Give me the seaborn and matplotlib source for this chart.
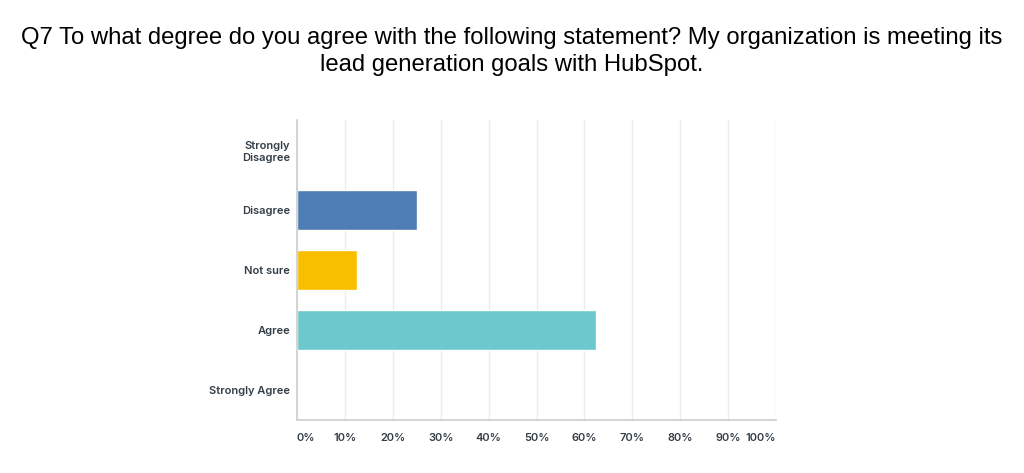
import matplotlib; matplotlib.use("Agg")
import matplotlib.pyplot as plt
import pandas as pd
import seaborn as sns

# ── data ──────────────────────────────────────────
categories = ["Strongly\nDisagree", "Disagree", "Not sure", "Agree", "Strongly Agree"]
percent = [0.0, 25.0, 12.5, 62.5, 0.0]
bar_colors = ["#3d6fa8", "#4f7db5", "#f8be00", "#6cc8cc", "#8ebf5c"]
x_ticks = [0, 10, 20, 30, 40, 50, 60, 70, 80, 90, 100]
x_tick_labels = [f"{t}%" for t in x_ticks]
title = ("Q7 To what degree do you agree with the following statement? My organization is meeting its\n"
         "lead generation goals with HubSpot.")

sns.set_theme(style="white")
plt.rcParams["font.family"] = ["Inter", "DejaVu Sans"]

df = pd.DataFrame({"category": categories, "percent": percent})

fig = plt.figure(figsize=(10.24, 4.73), dpi=100)
ax = fig.add_axes([0.290, 0.112, 0.468, 0.634])

sns.barplot(data=df, x="percent", y="category", hue="category",
            palette=bar_colors, order=categories, width=0.667,
            legend=False, ax=ax, saturation=1)

ax.set_xlim(0, 100)
ax.set_xticks(x_ticks)
ax.set_xticklabels(x_tick_labels)
ax.set_xlabel("")
ax.set_ylabel("")
ax.grid(axis="x", color="#ececec", linewidth=1)
ax.set_axisbelow(True)
for s in ["top", "right"]:
    ax.spines[s].set_visible(False)
ax.spines["left"].set_color("#cfcfcf")
ax.spines["bottom"].set_color("#cfcfcf")
ax.tick_params(axis="both", length=0, labelsize=8, colors="#333e48")
ax.tick_params(axis="x", pad=9)
ax.tick_params(axis="y", pad=5)
for lbl in ax.get_xticklabels() + ax.get_yticklabels():
    lbl.set_fontweight("semibold")
xl = ax.get_xticklabels()
xl[0].set_ha("left")
xl[-1].set_ha("right")
for lbl in ax.get_yticklabels():
    lbl.set_multialignment("right")

fig.text(0.5, 0.942, title, ha="center", va="top", fontsize=17.2,
         family="Liberation Sans", color="#000000", linespacing=1.25)

fig.savefig("out.png", dpi=100, facecolor="white")
plt.close(fig)
